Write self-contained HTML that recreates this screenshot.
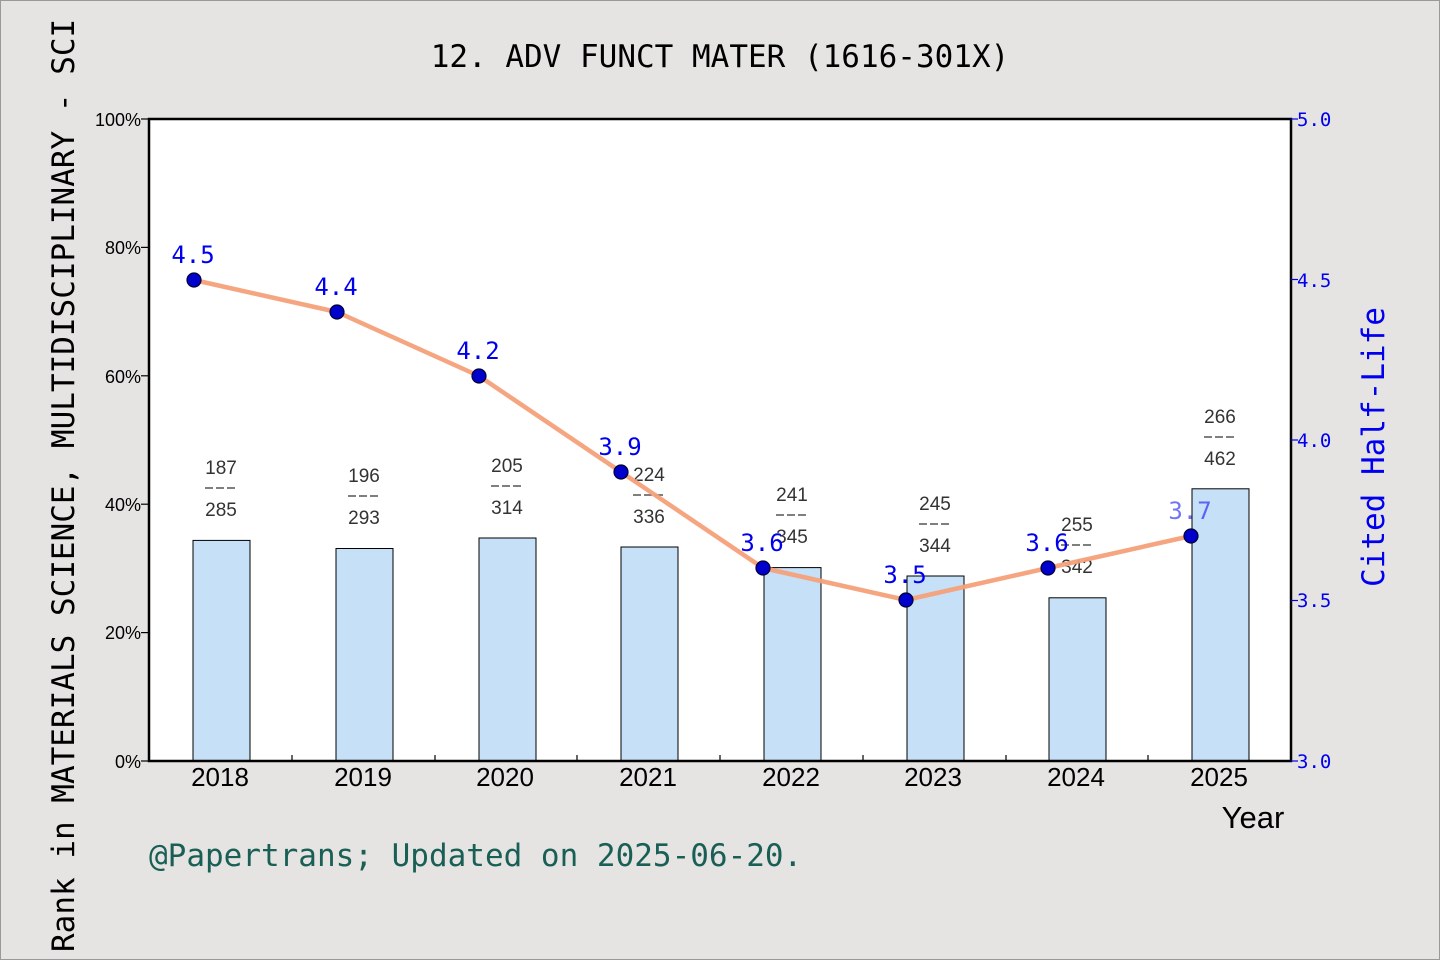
<!DOCTYPE html>
<html><head><meta charset="utf-8"><style>
html,body{margin:0;padding:0;background:#e5e4e3;}
svg{display:block;}
.m{font-family:"WenQuanYi Zen Hei Mono","DejaVu Sans Mono","Liberation Mono",monospace;}
.s{font-family:"Liberation Sans","DejaVu Sans",sans-serif;}
</style></head><body>
<svg width="1440" height="960" xmlns="http://www.w3.org/2000/svg">
<rect width="1440" height="960" fill="#e5e4e3"/>
<rect x="0.5" y="0.5" width="1439" height="959" fill="none" stroke="#999" stroke-width="1"/>
<text class="m" x="720" y="67" font-size="31" text-anchor="middle" fill="#000">12. ADV FUNCT MATER (1616-301X)</text>
<rect x="149" y="119" width="1142" height="642" fill="#fff"/>
<g fill="#c5e0f7" stroke="#000" stroke-width="1">
<rect x="193" y="540.4" width="57" height="220.6"/>
<rect x="336" y="548.5" width="57" height="212.5"/>
<rect x="479" y="538" width="57" height="223"/>
<rect x="621" y="547" width="57" height="214"/>
<rect x="764" y="567.6" width="57" height="193.4"/>
<rect x="907" y="576" width="57" height="185"/>
<rect x="1049" y="597.8" width="57" height="163.2"/>
<rect x="1192" y="488.8" width="57" height="272.2"/>
</g>
<g class="s" font-size="19" fill="#333" text-anchor="middle">
<text x="221" y="474">187</text><text x="221" y="516">285</text>
<text x="364" y="482">196</text><text x="364" y="524">293</text>
<text x="507" y="472">205</text><text x="507" y="514">314</text>
<text x="649" y="481">224</text><text x="649" y="523">336</text>
<text x="792" y="501">241</text><text x="792" y="543">345</text>
<text x="935" y="510">245</text><text x="935" y="552">344</text>
<text x="1077" y="531">255</text><text x="1077" y="573">342</text>
<text x="1220" y="423">266</text><text x="1220" y="465">462</text>
</g>
<g stroke="#555" stroke-width="1.5" stroke-dasharray="8,3">
<line x1="205" y1="488" x2="238" y2="488"/>
<line x1="348" y1="496" x2="381" y2="496"/>
<line x1="491" y1="486" x2="524" y2="486"/>
<line x1="633" y1="495" x2="666" y2="495"/>
<line x1="776" y1="515" x2="809" y2="515"/>
<line x1="919" y1="524" x2="952" y2="524"/>
<line x1="1061" y1="545" x2="1094" y2="545"/>
<line x1="1204" y1="437" x2="1237" y2="437"/>
</g>
<polyline points="194,280 337,312 479,376 621,472 763,568 906,600 1048,568 1191,536" fill="none" stroke="#f5a07a" stroke-width="4.5" stroke-linejoin="round" opacity="0.95"/>
<g fill="#0000cc" stroke="#000033" stroke-width="1.2">
<circle cx="194" cy="280" r="7"/><circle cx="337" cy="312" r="7"/><circle cx="479" cy="376" r="7"/><circle cx="621" cy="472" r="7"/><circle cx="763" cy="568" r="7"/><circle cx="906" cy="600" r="7"/><circle cx="1048" cy="568" r="7"/><circle cx="1191" cy="536" r="7"/>
</g>
<g class="m" font-size="24" fill="#0000ee" text-anchor="middle">
<text x="193" y="263">4.5</text><text x="336" y="295">4.4</text><text x="478" y="359">4.2</text><text x="620" y="455">3.9</text><text x="762" y="551">3.6</text><text x="905" y="583">3.5</text><text x="1047" y="551">3.6</text><text x="1190" y="519" fill-opacity="0.55">3.7</text>
</g>
<rect x="149" y="119" width="1142" height="642" fill="none" stroke="#000" stroke-width="2.5"/>
<g stroke="#000" stroke-width="1.2">
<line x1="141" y1="119" x2="149" y2="119"/><line x1="141" y1="247.4" x2="149" y2="247.4"/><line x1="141" y1="375.8" x2="149" y2="375.8"/><line x1="141" y1="504.2" x2="149" y2="504.2"/><line x1="141" y1="632.6" x2="149" y2="632.6"/><line x1="141" y1="761" x2="149" y2="761"/>
<line x1="292" y1="761" x2="292" y2="755"/><line x1="435" y1="761" x2="435" y2="755"/><line x1="577" y1="761" x2="577" y2="755"/><line x1="720" y1="761" x2="720" y2="755"/><line x1="863" y1="761" x2="863" y2="755"/><line x1="1006" y1="761" x2="1006" y2="755"/><line x1="1148" y1="761" x2="1148" y2="755"/>
</g>
<g stroke="#0000ee" stroke-width="1.2">
<line x1="1291" y1="119" x2="1298" y2="119"/><line x1="1291" y1="279.5" x2="1298" y2="279.5"/><line x1="1291" y1="440" x2="1298" y2="440"/><line x1="1291" y1="600.5" x2="1298" y2="600.5"/><line x1="1291" y1="761" x2="1298" y2="761"/>
</g>
<g class="s" font-size="18" fill="#000" text-anchor="end">
<text x="141" y="126">100%</text><text x="141" y="254">80%</text><text x="141" y="383">60%</text><text x="141" y="511">40%</text><text x="141" y="639">20%</text><text x="141" y="768">0%</text>
</g>
<g class="m" font-size="19" fill="#0000ee">
<text x="1297" y="126">5.0</text><text x="1297" y="287">4.5</text><text x="1297" y="447">4.0</text><text x="1297" y="607">3.5</text><text x="1297" y="768">3.0</text>
</g>
<g class="s" font-size="26" fill="#000" text-anchor="middle">
<text x="220" y="786">2018</text><text x="363" y="786">2019</text><text x="505" y="786">2020</text><text x="648" y="786">2021</text><text x="791" y="786">2022</text><text x="933" y="786">2023</text><text x="1076" y="786">2024</text><text x="1219" y="786">2025</text>
</g>
<text class="s" x="1253" y="828" font-size="31" text-anchor="middle" fill="#000">Year</text>
<text class="m" x="149" y="866" font-size="31" fill="#1a5f55">@Papertrans; Updated on 2025-06-20.</text>
<text class="m" transform="translate(74,952) rotate(-90)" font-size="31" fill="#000">Rank in MATERIALS SCIENCE, MULTIDISCIPLINARY - SCI</text>
<text class="m" transform="translate(1384,447) rotate(-90)" font-size="31" fill="#0000ee" text-anchor="middle">Cited Half-Life</text>
</svg>
</body></html>
